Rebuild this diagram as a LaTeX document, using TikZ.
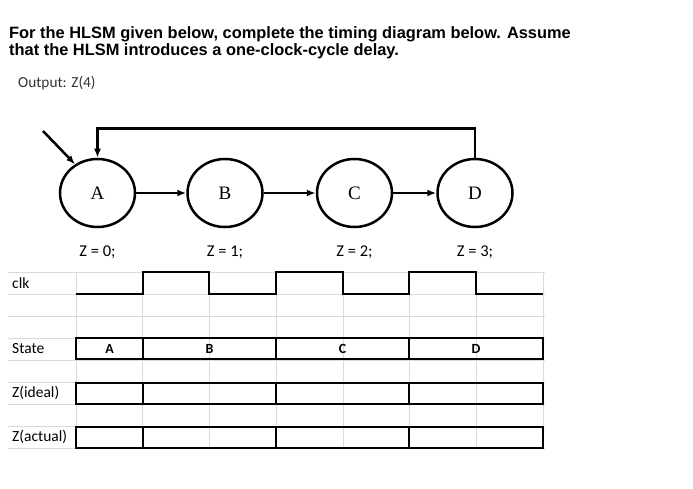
\documentclass[tikz,border=0pt]{standalone}
\usepackage{fontspec}
\setmainfont{Carlito}
\newfontfamily\titlefont{Liberation Sans}
\newfontfamily\statefont{Liberation Serif}
\usetikzlibrary{positioning,shapes.geometric,arrows.meta}
\definecolor{gridgray}{RGB}{218,218,218}

\tikzset{
  hlsmstate/.style={draw, ellipse, line width=2.5pt, minimum width=75pt, minimum height=68pt, inner sep=0pt, font=\statefont\fontsize{19}{19}\selectfont},
  zlabel/.style={inner sep=0pt, font=\fontsize{16.5}{16.5}\selectfont},
  trans/.style={-{Latex[length=9pt,width=7pt]}, line width=2.5pt},
  cellbox/.style={draw, line width=2pt, minimum height=21pt, inner sep=0pt, font=\bfseries\fontsize{14}{14}\selectfont},
  rowlabel/.style={anchor=west, inner sep=0pt, font=\fontsize{15.5}{15.5}\selectfont},
}

\begin{document}
\begin{tikzpicture}[x=1pt, y=-1pt]
\useasboundingbox (0,0) rectangle (693,489);

% question text
\node[anchor=west, inner sep=0pt, font=\titlefont\bfseries\fontsize{16.4}{17}\selectfont] (Q1) at (9,34) {For the HLSM given below, complete the timing diagram below. Assume};
\node[anchor=west, inner sep=0pt, font=\titlefont\bfseries\fontsize{16.4}{17}\selectfont] (Q2) at (9,51) {that the HLSM introduces a one-clock-cycle delay.};
\node[anchor=base west, inner sep=0pt, text=black!80, font=\fontsize{15.3}{15.3}\selectfont] (Out) at (18,88) {Output: Z(4)};

% state machine
\node[hlsmstate] (A) at (97.5,193) {A};
\node[hlsmstate] (B) [right=50pt of A] {B};
\node[hlsmstate] (C) [right=52pt of B] {C};
\node[hlsmstate] (D) [right=43pt of C] {D};

\node[zlabel] (zA) [below=17pt of A] {Z = 0;};
\node[zlabel] (zB) [below=17pt of B] {Z = 1;};
\node[zlabel] (zC) [below=17pt of C] {Z = 2;};
\node[zlabel] (zD) [below=17pt of D] {Z = 3;};

\coordinate (init) at (43,131);
\draw[trans] (init) -- (A.128);
\draw[trans] (A) -- (B);
\draw[trans] (B) -- (C);
\draw[trans] (C) -- (D);
\draw[trans] (D.north) -- ++(0,-29) -| (A.north);

% spreadsheet grid
\foreach \y in {272,294,...,448}
  \draw[gridgray, line width=1pt] (8,\y) -- (545,\y);
\foreach \x in {76,142.75,...,544}
  \draw[gridgray, line width=1pt] (\x,272) -- (\x,448);

% row names
\node[rowlabel] (lclk) at (12,283) {clk};
\node[rowlabel] (lstate) at (12,349) {State};
\node[rowlabel] (lideal) at (12,393) {Z(ideal)};
\node[rowlabel] (lactual) at (12,437) {Z(actual)};

% clock
\draw[line width=2pt] (76,294) -- (143,294) -- (143,272) -- (209,272) -- (209,294) -- (276,294) -- (276,272) -- (343,272) -- (343,294) -- (409,294) -- (409,272) -- (476,272) -- (476,294) -- (543,294);

% state row
\foreach \n/\xa/\xb in {A/76/143, B/143/276, C/276/409, D/409/543}
  \node[cellbox, minimum width={(\xb-\xa)*1pt}] (s\n) at ({(\xa+\xb)/2},348.5) {\n};

% ideal and actual rows, left blank
\foreach \y/\r in {393/i, 437/a}
  \foreach \n/\xa/\xb in {A/76/143, B/143/276, C/276/409, D/409/543}
    \node[cellbox, minimum width={(\xb-\xa)*1pt}] (\r\n) at ({(\xa+\xb)/2},\y) {};

\end{tikzpicture}
\end{document}
